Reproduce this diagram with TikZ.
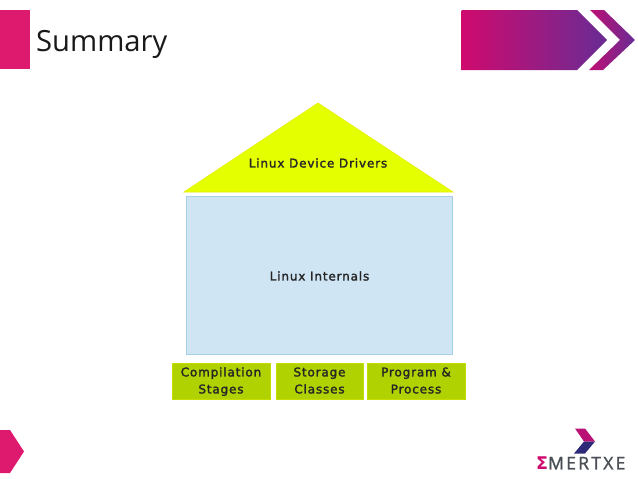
\documentclass[tikz,border=0pt]{standalone}
\usepackage{fontspec}
\setmainfont{Open Sans}
\newfontfamily\bodyfont[LetterSpace=7,FakeBold=2]{DejaVu Sans}
\newfontfamily\logofont[LetterSpace=13,FakeBold=1.5]{Open Sans}
\definecolor{deeppink}{HTML}{DE1A6E}
\definecolor{bannerpink}{HTML}{CF0A6E}
\definecolor{bannerpurple}{HTML}{682C94}
\definecolor{rooflime}{HTML}{E4FF00}
\definecolor{wallblue}{HTML}{CFE5F4}
\definecolor{walledge}{HTML}{A5D0E8}
\definecolor{baselime}{HTML}{AFD200}
\definecolor{logonavy}{HTML}{2E2A78}
\definecolor{logogrey}{HTML}{4A4F55}
\tikzset{
  basebox/.style={rectangle,fill=baselime,draw=baselime!75!yellow,line width=0.7pt,inner sep=0pt,
    align=center,font=\bodyfont\fontsize{12}{17}\selectfont,text=black!85},
  label/.style={font=\bodyfont\fontsize{12}{14}\selectfont,text=black!85}
}
\begin{document}
\begin{tikzpicture}[x=1pt,y=-1pt]
      \useasboundingbox (0,0) rectangle (638,479);
      % page furniture
      \fill [deeppink] (0,10) rectangle (29.5,69);
      \fill [deeppink] (0,430) -- (10,430) -- (24,451.5) -- (10,473) -- (0,473) -- cycle;
      \node (title) [anchor=west,inner sep=0pt,font=\fontsize{29.2}{32}\selectfont,text=black!90] at (36,44) {Summary};
      \path [shade,shading=axis,left color=bannerpink,right color=bannerpurple]
        (461.5,10) -- (577,10) -- (607,40) -- (577,70) -- (461.5,70) -- cycle;
      \path [shade,shading=axis,left color=bannerpink!85!bannerpurple,right color=bannerpurple]
        (590,10) -- (604,10) -- (635,40) -- (603,70) -- (589,70) -- (620,40) -- cycle;
      % roof
      \fill [rooflime,draw=rooflime!85!orange,line width=0.6pt] (318,103) -- (453,192) -- (184,192) -- cycle;
      \node (drivers) [label] at (318,163) {Linux Device Drivers};
      % wall
      \node (internals) [rectangle,fill=wallblue,draw=walledge,line width=0.7pt,inner sep=0pt,
        minimum width=266pt,minimum height=158.5pt] at (319,275.5) {};
      \node (internalstext) [label] at (319.5,276) {Linux Internals};
      % foundation
      \node (compile) [basebox,minimum width=98pt,minimum height=36pt] at (221,381.5) {\strut Compilation\\\strut Stages};
      \node (storage) [basebox,minimum width=87pt,minimum height=36pt] at (319.5,381.5) {\strut Storage\\\strut Classes};
      \node (program) [basebox,minimum width=98pt,minimum height=36pt] at (416,381.5) {\strut Program \&\\\strut Process};
      % logo
      \fill [bannerpink!80!bannerpurple] (575,428.5) -- (585,428.5) -- (595,441.5) -- (584,441.5) -- cycle;
      \fill [logonavy] (584,441.5) -- (595,441.5) -- (585,453.5) -- (574,453.5) -- cycle;
      \node (logo) [anchor=west,inner sep=0pt,font=\logofont\fontsize{17.5}{18}\selectfont,text=logogrey] at (536,463)
        {\textcolor{bannerpink}{\fontspec{DejaVu Sans}\bfseries Σ}MERTXE};
    \end{tikzpicture}
\end{document}
